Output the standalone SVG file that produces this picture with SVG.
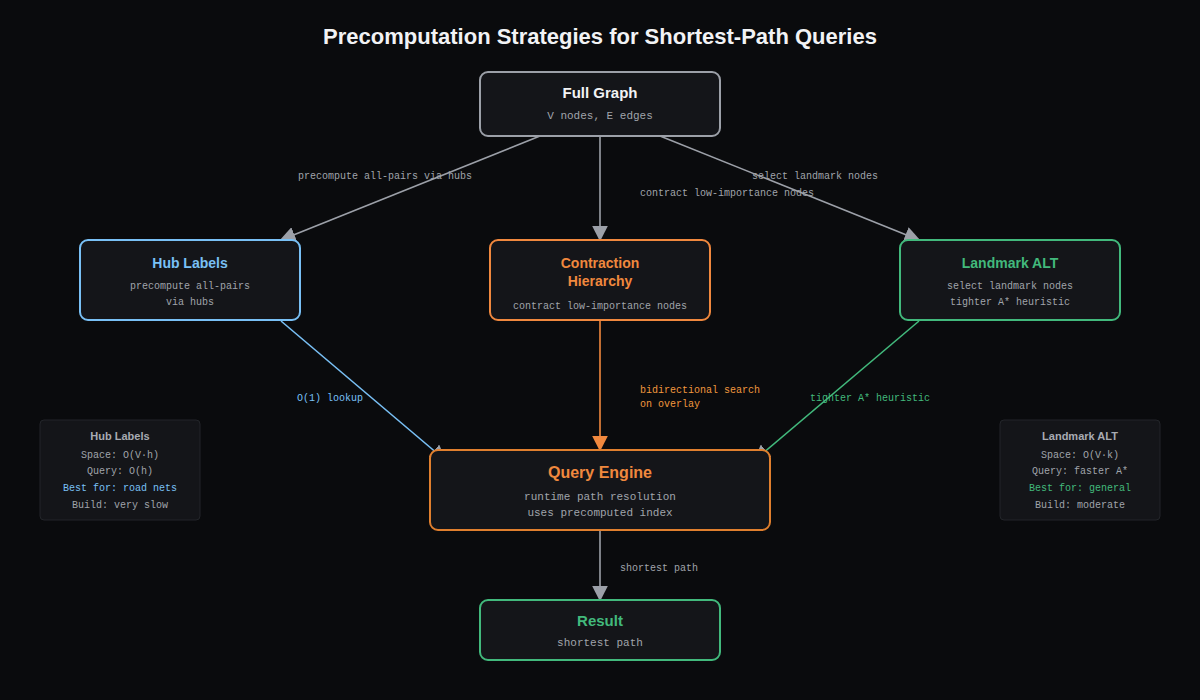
<svg xmlns="http://www.w3.org/2000/svg" width="1200" height="700" viewBox="0 0 1200 700">
<style>
.t{font-family:"Liberation Sans",Arial,sans-serif;font-weight:bold;text-anchor:middle}
.m{font-family:"Liberation Mono","DejaVu Sans Mono",monospace;fill:#a0a4ab;text-anchor:middle}
.node{fill:#141519;stroke-width:2}
.e{fill:none;stroke-width:1.6}
.side{fill:#141519;stroke:#23252a;stroke-width:1}
</style>
<defs>
<marker id="a" viewBox="0 0 10 10" refX="9" refY="5" markerWidth="8" markerHeight="8" orient="auto" markerUnits="userSpaceOnUse" >
<path d="M0,0 L10,5 L0,10 z" fill="#9ca0a8"/>
</marker>
<marker id="ab" viewBox="0 0 10 10" refX="9" refY="5" markerWidth="16" markerHeight="16" orient="auto" markerUnits="userSpaceOnUse">
<path d="M0,0 L10,5 L0,10 z" fill="#9ca0a8"/>
</marker>
<marker id="ao" viewBox="0 0 10 10" refX="9" refY="5" markerWidth="16" markerHeight="16" orient="auto" markerUnits="userSpaceOnUse">
<path d="M0,0 L10,5 L0,10 z" fill="#f0883e"/>
</marker>
</defs>
<rect width="1200" height="700" fill="#0a0b0d"/>
<text class="t" x="600" y="44" font-size="22" fill="#f2f3f5">Precomputation Strategies for Shortest-Path Queries</text>
<g id="connectors">
<line class="e" x1="540" y1="136" x2="281" y2="240" stroke="#9ca0a8" marker-end="url(#ab)"/>
<line class="e" x1="600" y1="136" x2="600" y2="240" stroke="#9ca0a8" marker-end="url(#ab)"/>
<line class="e" x1="660" y1="136" x2="919" y2="240" stroke="#9ca0a8" marker-end="url(#ab)"/>
<line class="e" x1="281" y1="321" x2="445" y2="460" stroke="#79c0f5" marker-end="url(#ab)"/>
<line class="e" x1="600" y1="321" x2="600" y2="450" stroke="#f0883e" marker-end="url(#ao)"/>
<line class="e" x1="919" y1="321" x2="755" y2="460" stroke="#42b97c" marker-end="url(#ab)"/>
<line class="e" x1="600" y1="531" x2="600" y2="600" stroke="#9ca0a8" marker-end="url(#ab)"/>
<text class="m" x="385" y="179" font-size="10">precompute all-pairs via hubs</text>
<text class="m" x="727" y="196" font-size="10">contract low-importance nodes</text>
<text class="m" x="815" y="179" font-size="10">select landmark nodes</text>
<text class="m" x="330" y="401" font-size="10" fill="#79c0f5" style="fill:#79c0f5">O(1) lookup</text>
<text class="m" x="640" y="393" font-size="10" style="fill:#f0983e;text-anchor:start">bidirectional search</text>
<text class="m" x="640" y="407" font-size="10" style="fill:#f0983e;text-anchor:start">on overlay</text>
<text class="m" x="870" y="401" font-size="10" style="fill:#42b97c">tighter A* heuristic</text>
<text class="m" x="659" y="571" font-size="10">shortest path</text>
</g>
<g id="full-graph">
<rect class="node" x="480" y="72" width="240" height="64" rx="8" stroke="#9ca0a8"/>
<text class="t" x="600" y="98" font-size="15" fill="#f2f3f5">Full Graph</text>
<text class="m" x="600" y="119" font-size="11">V nodes, E edges</text>
</g>
<g id="hub-labels">
<rect class="node" x="80" y="240" width="220" height="80" rx="8" stroke="#79c0f5"/>
<text class="t" x="190" y="268" font-size="14" fill="#79c0f5">Hub Labels</text>
<text class="m" x="190" y="289" font-size="10">precompute all-pairs</text>
<text class="m" x="190" y="305" font-size="10">via hubs</text>
</g>
<g id="contraction-hierarchy">
<rect class="node" x="490" y="240" width="220" height="80" rx="8" stroke="#f0883e"/>
<text class="t" x="600" y="268" font-size="14" fill="#f0883e">Contraction</text>
<text class="t" x="600" y="286" font-size="14" fill="#f0883e">Hierarchy</text>
<text class="m" x="600" y="309" font-size="10">contract low-importance nodes</text>
</g>
<g id="landmark-alt">
<rect class="node" x="900" y="240" width="220" height="80" rx="8" stroke="#42b97c"/>
<text class="t" x="1010" y="268" font-size="14" fill="#42b97c">Landmark ALT</text>
<text class="m" x="1010" y="289" font-size="10">select landmark nodes</text>
<text class="m" x="1010" y="305" font-size="10">tighter A* heuristic</text>
</g>
<g id="query-engine">
<rect class="node" x="430" y="450" width="340" height="80" rx="8" stroke="#e07f2e"/>
<text class="t" x="600" y="478" font-size="16" fill="#f0883e">Query Engine</text>
<text class="m" x="600" y="500" font-size="11">runtime path resolution</text>
<text class="m" x="600" y="516" font-size="11">uses precomputed index</text>
</g>
<g id="result">
<rect class="node" x="480" y="600" width="240" height="60" rx="8" stroke="#42b97c"/>
<text class="t" x="600" y="626" font-size="15" fill="#42b97c">Result</text>
<text class="m" x="600" y="646" font-size="11">shortest path</text>
</g>
<g id="hub-summary">
<rect class="side" x="40" y="420" width="160" height="100" rx="4"/>
<text class="t" x="120" y="440" font-size="11" fill="#a8abb2">Hub Labels</text>
<text class="m" x="120" y="458" font-size="10">Space: O(V·h)</text>
<text class="m" x="120" y="474" font-size="10">Query: O(h)</text>
<text class="m" x="120" y="491" font-size="10" style="fill:#79c0f5">Best for: road nets</text>
<text class="m" x="120" y="508" font-size="10">Build: very slow</text>
</g>
<g id="alt-summary">
<rect class="side" x="1000" y="420" width="160" height="100" rx="4"/>
<text class="t" x="1080" y="440" font-size="11" fill="#a8abb2">Landmark ALT</text>
<text class="m" x="1080" y="458" font-size="10">Space: O(V·k)</text>
<text class="m" x="1080" y="474" font-size="10">Query: faster A*</text>
<text class="m" x="1080" y="491" font-size="10" style="fill:#42b97c">Best for: general</text>
<text class="m" x="1080" y="508" font-size="10">Build: moderate</text>
</g>
</svg>
